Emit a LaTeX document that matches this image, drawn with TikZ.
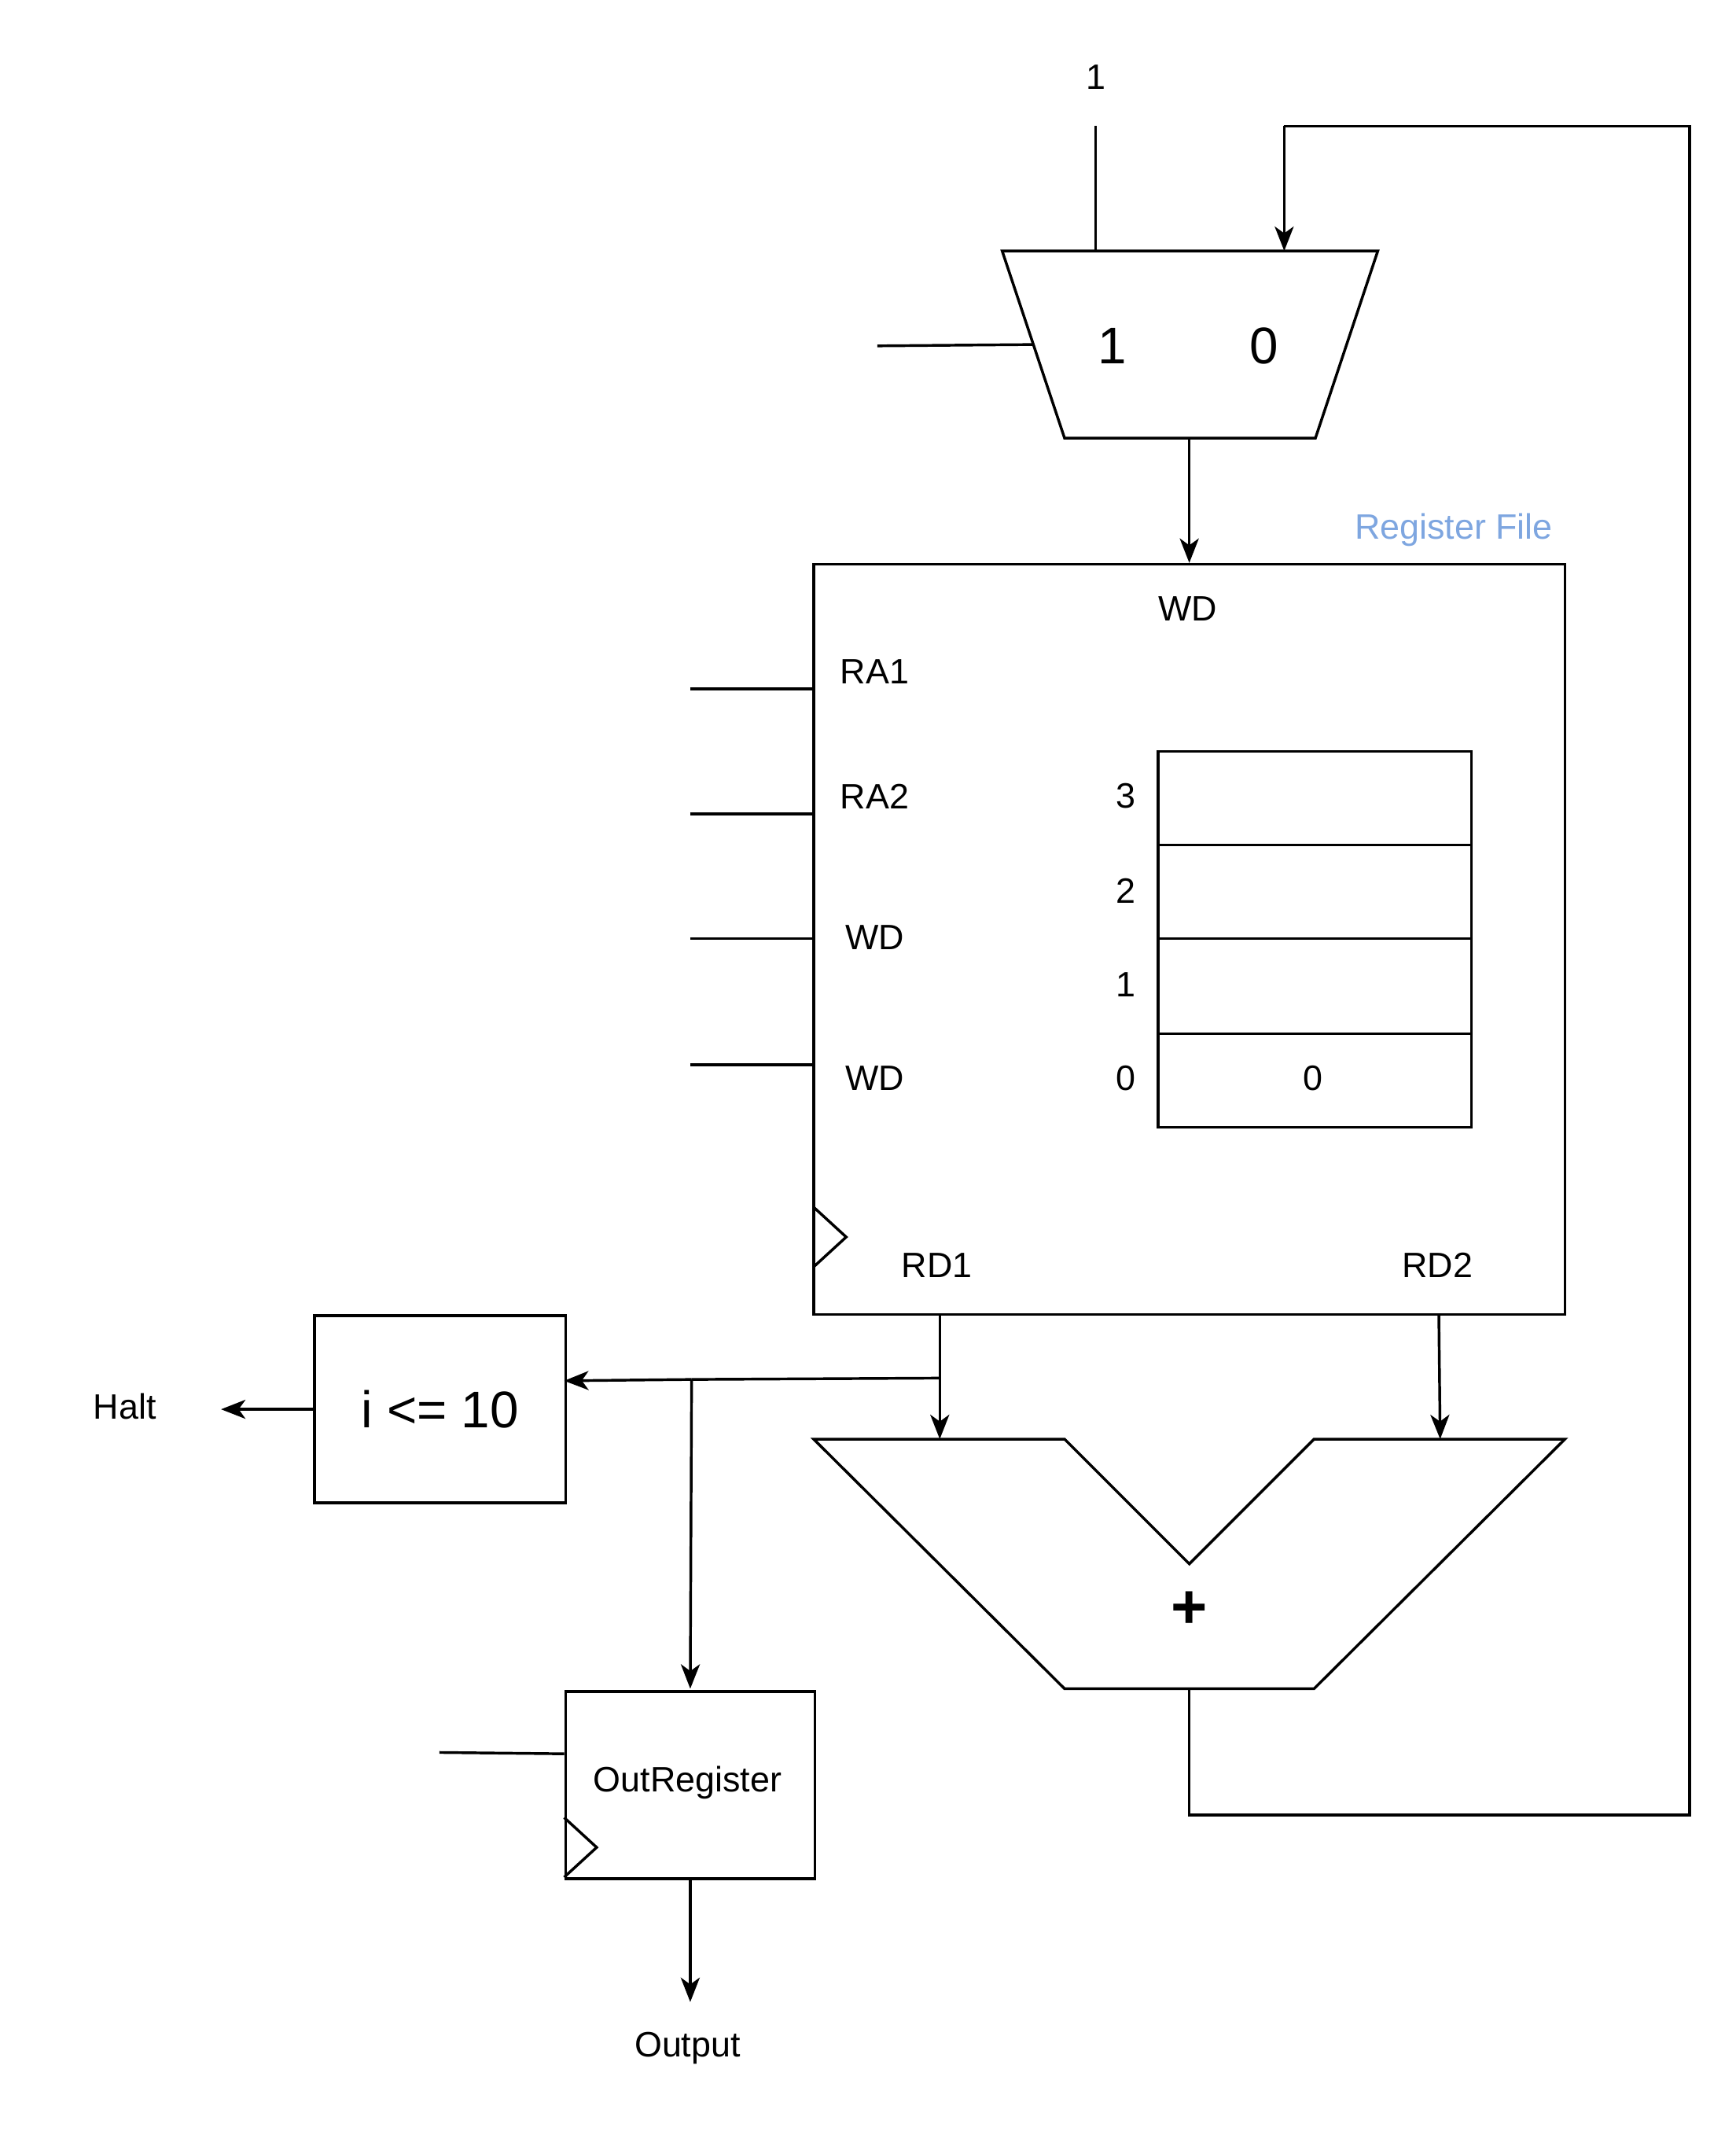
\documentclass[tikz,border=0pt]{standalone}
\usepackage{fontspec}
\setmainfont{Liberation Sans}
\usetikzlibrary{arrows.meta}
\definecolor{rfblue}{HTML}{7EA6E0}
\begin{document}
\begin{tikzpicture}[x=1pt,y=-1pt,
  ln/.style={line width=2pt},
  arr/.style={line width=2pt,-{Stealth[length=18pt,width=14pt,inset=5pt]}},
  lbl/.style={font=\fontsize{26}{28}\selectfont,inner sep=0pt},
  big/.style={font=\fontsize{38}{40}\selectfont,inner sep=0pt}]
\useasboundingbox (0,0) rectangle (1280,1577);
% mux
\draw[ln] (739,185) -- (1016,185) -- (970,323) -- (785,323) -- cycle;
\node[big] (m1) at (820,255) {1};
\node[big] (m0) at (932,255) {0};
\node[lbl] (one) at (808,57) {1};
\coordinate (onetop) at (808,93);
\coordinate (muxin1) at (808,185);
\draw[ln] (onetop) -- (muxin1);
\coordinate (sel) at (647,255);
\coordinate (selend) at (762,254);
\draw[ln] (sel) -- (selend);
\coordinate (muxout) at (877,323);
\coordinate (wdin) at (877,415);
\draw[arr] (muxout) -- (wdin);
% register file
\draw[ln] (600,416) rectangle (1154,969);
\node[lbl,text=rfblue] (rf) at (1072,391) {Register File};
\node[lbl] (wdt) at (876,449) {WD};
\node[lbl] (ra1) at (645,495) {RA1};
\node[lbl] (ra2) at (645,587) {RA2};
\node[lbl] (wd1) at (645,691) {WD};
\node[lbl] (wd2) at (645,795) {WD};
\foreach \y in {508,600,692,785} \draw[ln] (509,\y) -- (600,\y);
\draw[ln] (854,554) rectangle (1085,831);
\foreach \y in {623,692,762} \draw[ln] (854,\y) -- (1085,\y);
\node[lbl] at (830,587) {3};
\node[lbl] at (830,657) {2};
\node[lbl] at (830,726) {1};
\node[lbl] at (830,795) {0};
\node[lbl] at (968,795) {0};
\draw[ln] (600,890) -- (624,912) -- (600,934);
\node[lbl] (rd1) at (691,933) {RD1};
\node[lbl] (rd2) at (1060,933) {RD2};
% adder
\draw[ln] (600,1061) -- (785,1061) -- (877,1153) -- (969,1061) -- (1154,1061) -- (969,1245) -- (785,1245) -- cycle;
\node[inner sep=0pt,font=\fontsize{46}{46}\selectfont\bfseries] (plus) at (877,1187) {+};
\draw[arr] (693,969) -- (693,1061);
\draw[arr] (1061,969) -- (1062,1061);
% feedback
\draw[ln] (877,1245) -- (877,1338) -- (1246,1338) -- (1246,93) -- (947,93);
\draw[arr] (947,93) -- (947,185);
% compare
\node[draw,ln,minimum width=185pt,minimum height=138pt,anchor=north west,big,inner sep=0pt] (cmp) at (231,969) {i <= 10};
\coordinate (br) at (510,1017);
\draw[ln] (693,1016) -- (br);
\draw[arr] (br) -- (416,1018);
\draw[arr] (231,1039) -- (163,1039);
\node[lbl] (halt) at (92,1037) {Halt};
% out register
\node[draw,ln,minimum width=184pt,minimum height=138pt,anchor=north west,lbl] (outr) at (416,1246) {};
\node[lbl] at (507,1314) {OutRegister};
\draw[arr] (br) -- (509,1245);
\draw[ln] (416,1340) -- (440,1362) -- (416,1384);
\draw[ln] (324,1292) -- (416,1293);
\draw[arr] (509,1384) -- (509,1476);
\node[lbl] (outp) at (507,1510) {Output};
\end{tikzpicture}
\end{document}
